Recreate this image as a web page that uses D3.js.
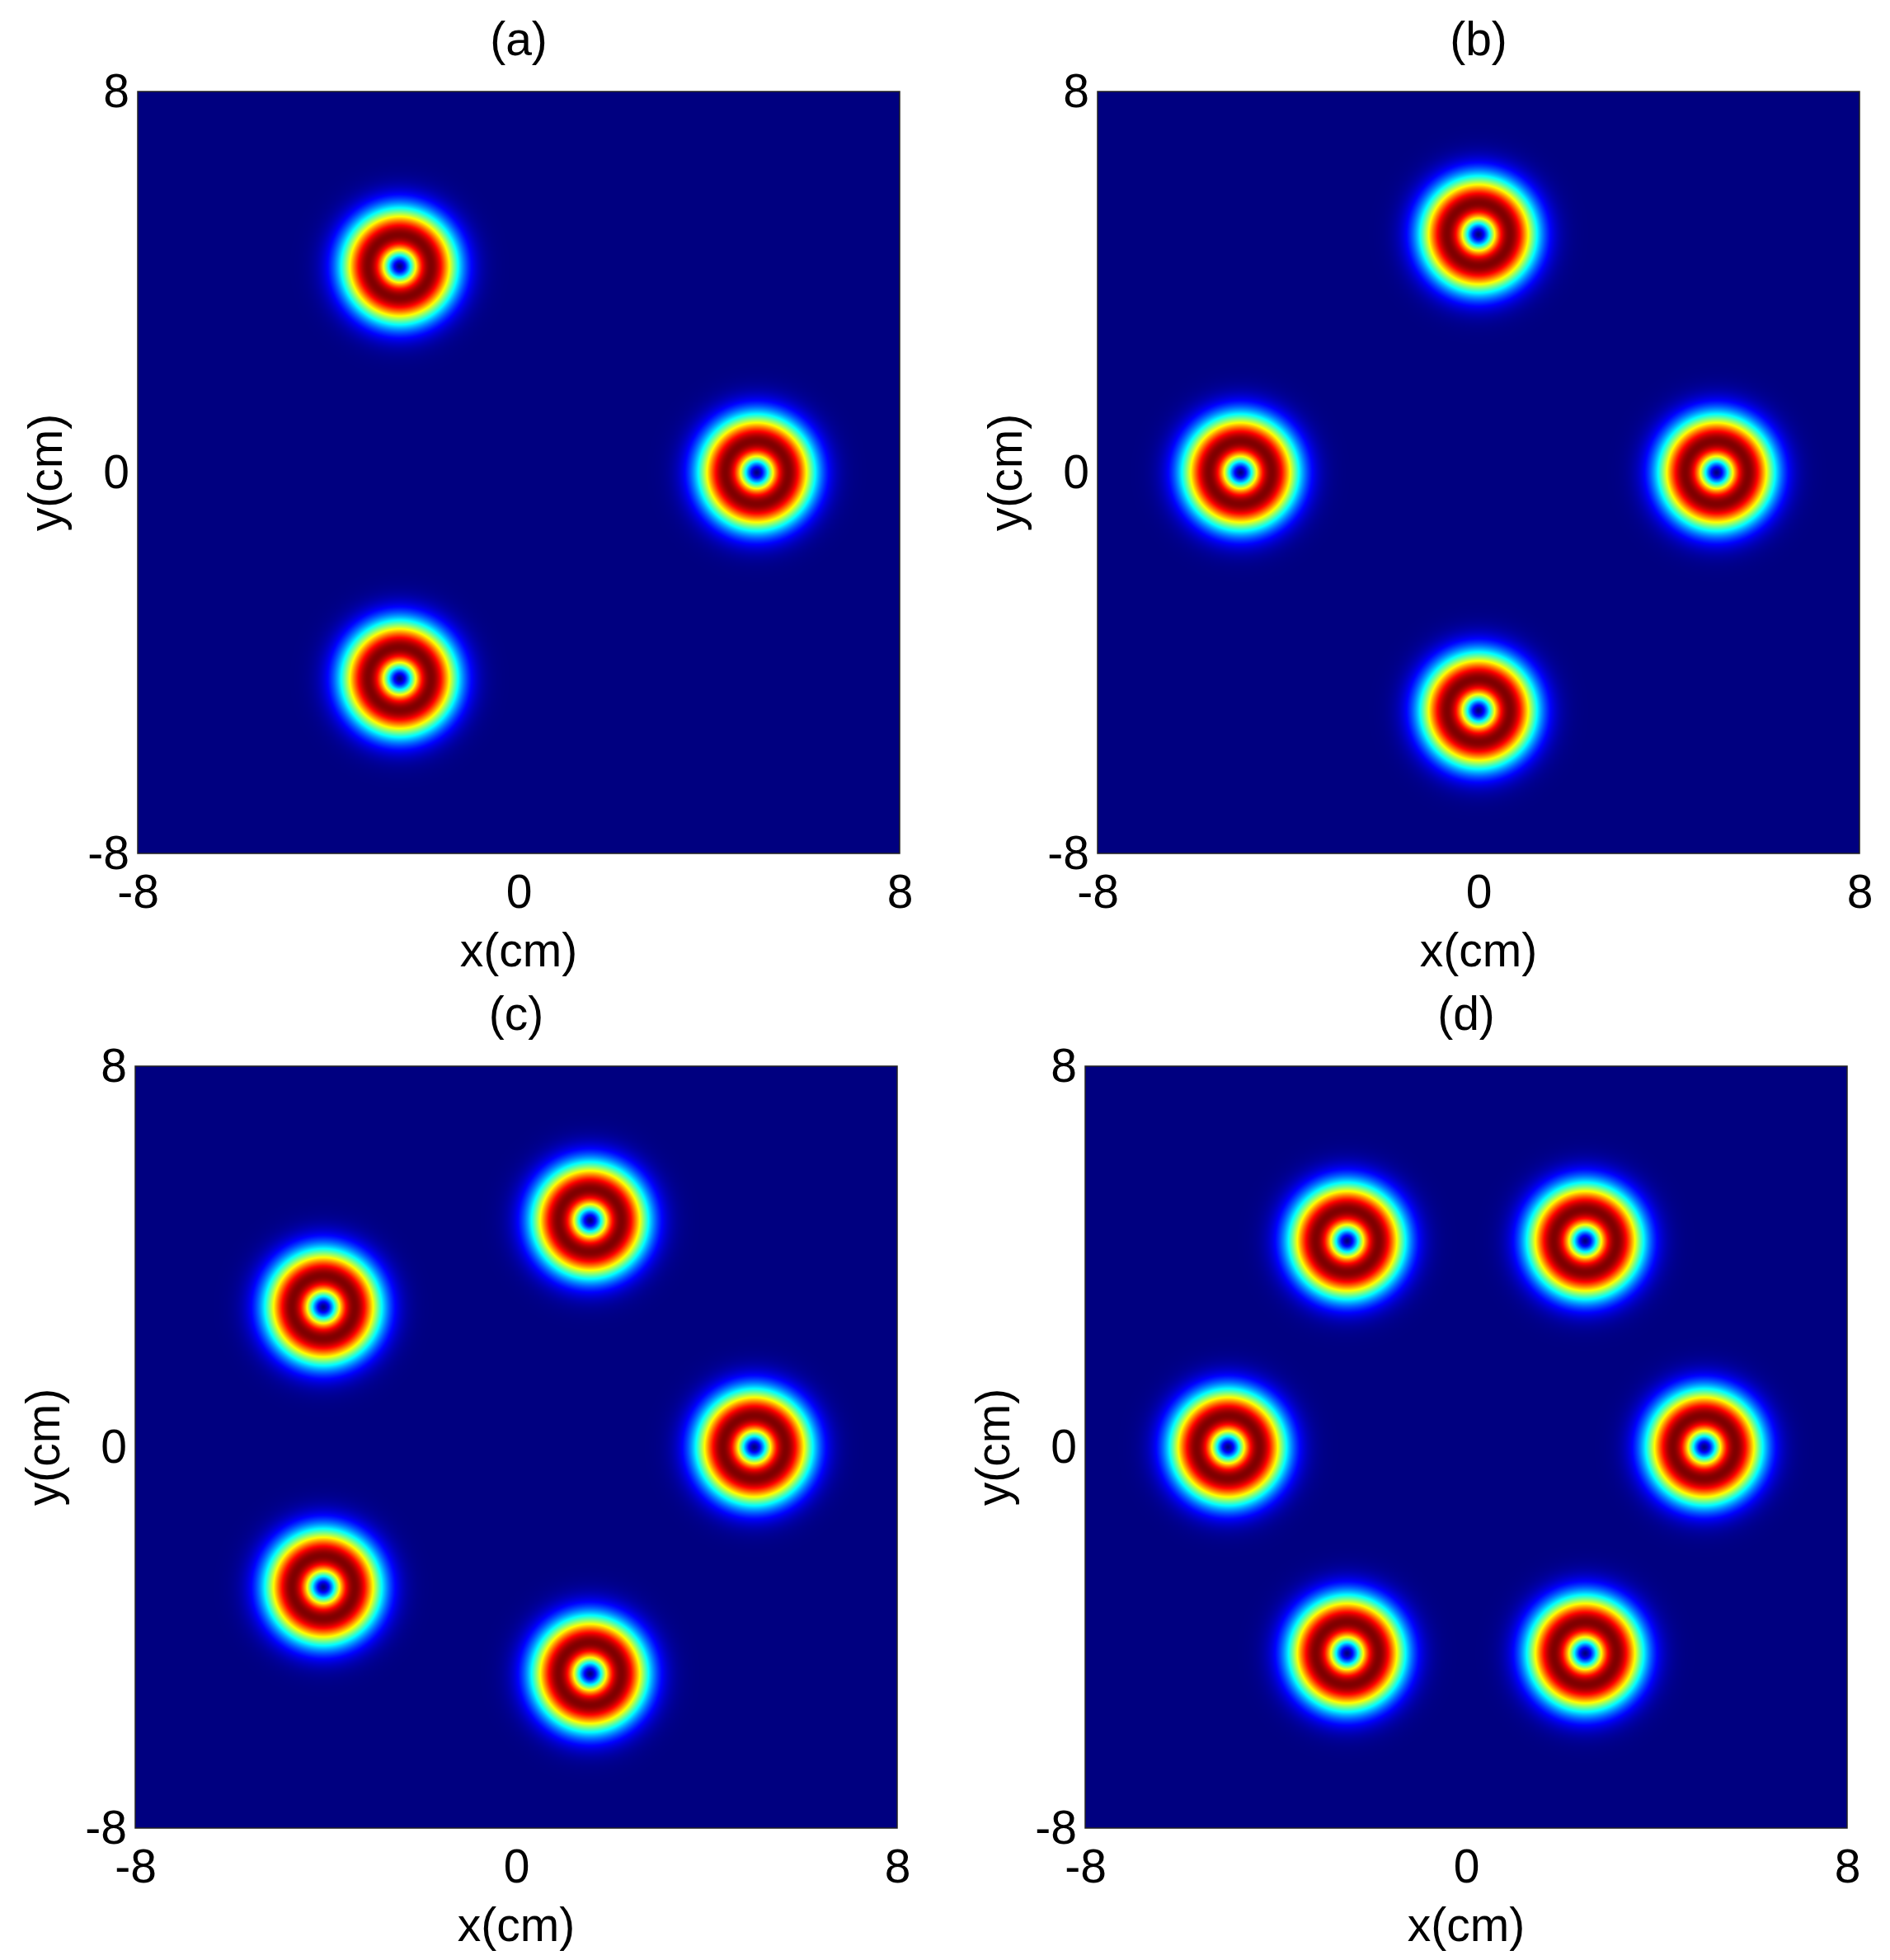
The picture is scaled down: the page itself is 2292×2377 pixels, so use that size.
<!DOCTYPE html>
<html><head><meta charset="utf-8">
<script src="https://cdn.jsdelivr.net/npm/d3@7"></script>
<style>body{margin:0;background:#fff}svg{display:block}</style></head>
<body><svg id="c" width="2292" height="2377"></svg>
<script>
const panelTitles = ["(a)","(b)","(c)","(d)"];
const tickValues = [-8,0,8];
const xLabel = "x(cm)", yLabel = "y(cm)";
// vortex centres (cm) per panel
const centresA = [[-2.5,4.33],[5,0],[-2.5,-4.33]];
const centresB = [[0,5],[-5,0],[5,0],[0,-5]];
const centresC = [[1.55,4.76],[-4.05,2.94],[5,0],[-4.05,-2.94],[1.55,-4.76]];
const centresD = [[-2.5,4.33],[2.5,4.33],[-5,0],[5,0],[-2.5,-4.33],[2.5,-4.33]];
const ringRadius = 0.66; // cm, peak of ring
const panels = [
  {t:0,c:centresA,x0:167,y0:111},
  {t:1,c:centresB,x0:1331,y0:111},
  {t:2,c:centresC,x0:164,y0:1293},
  {t:3,c:centresD,x0:1316,y0:1293}];
const S=924;
const svg=d3.select("#c");
function jet(v){const c=x=>Math.max(0,Math.min(1,x));
 return [c(1.5-Math.abs(4*v-3)),c(1.5-Math.abs(4*v-2)),c(1.5-Math.abs(4*v-1))].map(q=>Math.round(q*255));}
panels.forEach(p=>{
  const x=d3.scaleLinear().domain([-8,8]).range([p.x0,p.x0+S]);
  const y=d3.scaleLinear().domain([-8,8]).range([p.y0+S,p.y0]);
  const cv=document.createElement("canvas");cv.width=S;cv.height=S;
  const ctx=cv.getContext("2d");const img=ctx.createImageData(S,S);
  const xi=d3.scaleLinear().domain([0,S]).range([-8,8]);
  const yi=d3.scaleLinear().domain([0,S]).range([8,-8]);
  for(let j=0;j<S;j++){const yy=yi(j+0.5);
    for(let i=0;i<S;i++){const xx=xi(i+0.5);let I=0;
      for(const [cx,cy] of p.c){const s=((xx-cx)**2+(yy-cy)**2)/(ringRadius*ringRadius);
        if(s<30) I+=Math.pow(s*Math.exp(1-s),0.8);}
      const col=jet(Math.min(1,I));const k=(j*S+i)*4;
      img.data[k]=col[0];img.data[k+1]=col[1];img.data[k+2]=col[2];img.data[k+3]=255;}}
  ctx.putImageData(img,0,0);
  svg.append("image").attr("x",x(-8)).attr("y",y(8)).attr("width",S).attr("height",S)
    .attr("href",cv.toDataURL());
  svg.append("rect").attr("x",x(-8)).attr("y",y(8)).attr("width",S).attr("height",S)
    .attr("fill","none").attr("stroke","#222").attr("stroke-width",1.5);
  const f="Liberation Sans, Arial, sans-serif";
  const fmt=d=>String(d);
  const xa=svg.append("g").attr("transform",`translate(0,${y(-8)})`)
    .call(d3.axisBottom(x).tickValues(tickValues).tickFormat(fmt).tickSize(0).tickPadding(26));
  const ya=svg.append("g").attr("transform",`translate(${x(-8)},0)`)
    .call(d3.axisLeft(y).tickValues(tickValues).tickFormat(fmt).tickSize(0).tickPadding(10));
  [xa,ya].forEach(a=>{a.select(".domain").remove();a.selectAll("text").attr("font-family",f).attr("font-size",57).attr("fill","#000");});
  svg.append("text").attr("x",x(0)).attr("y",y(-8)+137).attr("text-anchor","middle")
    .attr("font-family",f).attr("font-size",57).text(xLabel);
  svg.append("text").attr("transform",`translate(${x(-8)-92},${y(0)}) rotate(-90)`).attr("text-anchor","middle")
    .attr("font-family",f).attr("font-size",57).text(yLabel);
  svg.append("text").attr("x",x(0)).attr("y",y(8)-44).attr("text-anchor","middle")
    .attr("font-family",f).attr("font-size",57).text(panelTitles[p.t]);
});
</script></body></html>
